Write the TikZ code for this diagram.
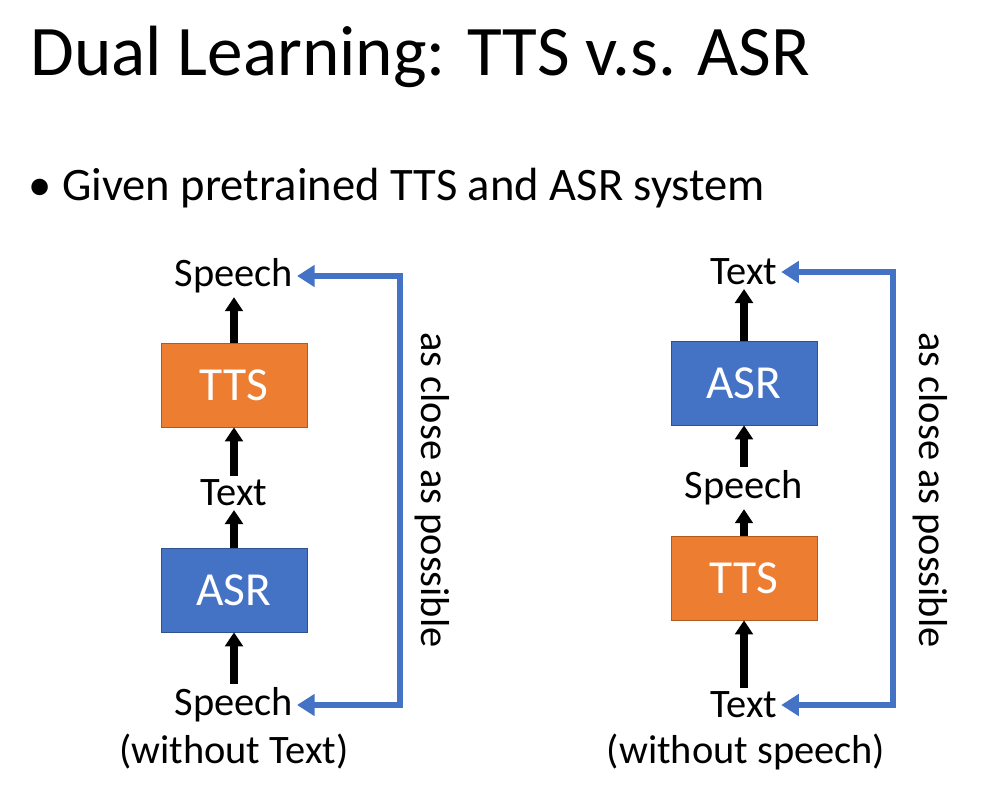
\documentclass[tikz,border=0pt]{standalone}
\usepackage{fontspec}
\setmainfont{Carlito}
\usetikzlibrary{positioning,arrows.meta}
\definecolor{ttsorange}{HTML}{ED7D31}
\definecolor{asrblue}{HTML}{4472C4}
\definecolor{edgeblue}{HTML}{2F528F}
\definecolor{edgeorange}{HTML}{AE5A21}
\tikzset{
  box/.style={minimum width=2.92cm, minimum height=1.68cm, text=white, font=\fontsize{27}{30}\selectfont},
  tts/.style={box, fill=ttsorange, draw=edgeorange},
  asr/.style={box, fill=asrblue, draw=edgeblue},
  lbl/.style={font=\fontsize{23}{26}\selectfont, inner sep=2pt},
  up/.style={-{Triangle[width=10pt,length=8pt]}, line width=4pt},
  loop/.style={{Triangle[width=12pt,length=10pt]}-{Triangle[width=12pt,length=10pt]}, line width=3.5pt, draw=asrblue},
}
\begin{document}
\begin{tikzpicture}[x=0.02cm, y=-0.02cm]
\useasboundingbox (0,0) rectangle (984,785);

% Title and bullet
\node[anchor=base west, font=\fontsize{40.5}{46}\selectfont, inner sep=0] (title) at (30,75) {Dual Learning: TTS v.s. ASR};
\node[anchor=base west, font=\fontsize{26.5}{30}\selectfont, inner sep=0] (bullet) at (28,200) {\textbullet\ Given pretrained TTS and ASR system};

% Left pipeline
\node[tts] (ttsL) at (234,385) {TTS};
\node[asr] (asrL) at (234,590) {ASR};
\node[lbl] (speechTopL) at (234,276) {Speech};
\node[lbl] (textL) at (234,493) {Text};
\node[lbl] (speechL) at (234,705) {Speech};
\node[lbl, anchor=base] (noteL) at (234,763) {(without Text)};
\draw[up] (ttsL.north) -- (speechTopL.south);
\draw[up] (textL.north) -- (ttsL.south);
\draw[up] (asrL.north) -- (textL.south);
\draw[up] (speechL.north) -- (asrL.south);
\coordinate (cornerTL) at (400,272);
\coordinate (cornerBL) at (400,705);
\draw[loop] (speechTopL.east) -- (speechTopL.east -| cornerTL) -- (speechL.east -| cornerBL) -- (speechL.east);
\node[lbl, rotate=-90] (closeL) at (432,490) {as close as possible};

% Right pipeline
\node[asr] (asrR) at (744,383) {ASR};
\node[tts] (ttsR) at (744,578) {TTS};
\node[lbl] (textTopR) at (744,272) {Text};
\node[lbl] (speechR) at (744,488) {Speech};
\node[lbl] (textR) at (744,705) {Text};
\node[lbl, anchor=base] (noteR) at (746,763) {(without speech)};
\draw[up] (asrR.north) -- (textTopR.south);
\draw[up] (speechR.north) -- (asrR.south);
\draw[up] (ttsR.north) -- (speechR.south);
\draw[up] (textR.north) -- (ttsR.south);
\coordinate (cornerTR) at (893,272);
\coordinate (cornerBR) at (893,705);
\draw[loop] (textTopR.east) -- (textTopR.east -| cornerTR) -- (textR.east -| cornerBR) -- (textR.east);
\node[lbl, rotate=-90] (closeR) at (930,490) {as close as possible};
\end{tikzpicture}
\end{document}
